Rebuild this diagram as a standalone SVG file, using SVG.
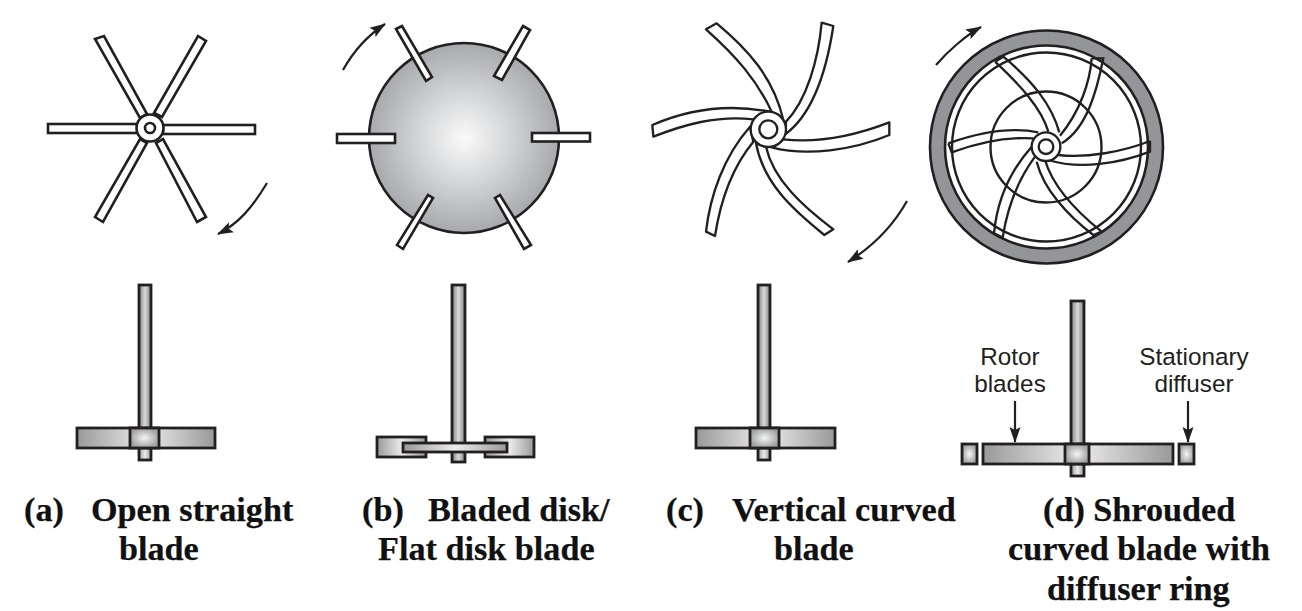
<svg xmlns="http://www.w3.org/2000/svg" width="1302" height="611" viewBox="0 0 1302 611">
<style>
.k{stroke:#231f20;fill:none}
.b{fill:#fff;stroke:#231f20;stroke-width:2.6}
.cv{fill:#fff;stroke:#231f20;stroke-width:7;stroke-linejoin:round}
.m{fill:url(#h);stroke:#231f20;stroke-width:2.8}
.sh{fill:url(#s);stroke:#231f20;stroke-width:2.8}
.rr{fill:url(#r);stroke:#231f20;stroke-width:2.8}
.ar{fill:none;stroke:#231f20;stroke-width:2.2}
.cap{font-family:"Liberation Serif","Times New Roman",serif;font-weight:bold;font-size:34.2px;fill:#111;stroke:#111;stroke-width:.25}
.lab{font-family:"Liberation Sans",Arial,sans-serif;font-size:24.3px;fill:#231f20;text-anchor:middle}
</style>
<defs>
<radialGradient id="disk" gradientUnits="userSpaceOnUse" cx="464" cy="138" r="95"><stop offset="0" stop-color="#fafafa"/><stop offset=".5" stop-color="#d2d3d5"/><stop offset="1" stop-color="#a7a9ac"/></radialGradient>
<linearGradient id="h"><stop offset="0" stop-color="#999"/><stop offset=".5" stop-color="#ececec"/><stop offset="1" stop-color="#999"/></linearGradient>
<linearGradient id="s"><stop offset="0" stop-color="#808285"/><stop offset=".5" stop-color="#d8d9da"/><stop offset="1" stop-color="#808285"/></linearGradient>
<radialGradient id="r"><stop offset="0" stop-color="#f5f5f5"/><stop offset="1" stop-color="#a0a1a4"/></radialGradient>
<marker id="ah" markerWidth="16" markerHeight="12" refX="15" refY="6" orient="auto" markerUnits="userSpaceOnUse"><path d="M0,0.500L16,6L0,11.500L3,6Z" fill="#231f20"/></marker>
</defs>
<g id="connectors">
<path class="ar" marker-end="url(#ah)" d="M267,183C252,208 238,224 218,234"/>
<path class="ar" marker-end="url(#ah)" d="M343,70C353,52 367,36 385,24"/>
<path class="ar" marker-end="url(#ah)" d="M907,201C893,226 875,245 848,262"/>
<path class="ar" marker-end="url(#ah)" d="M936,65C947,52 965,36 981,27"/>
<path class="ar" marker-end="url(#ah)" d="M1015,401V442"/>
<path class="ar" marker-end="url(#ah)" d="M1188,401V442"/>
</g>
<g id="impeller-a-top">
<g class="b">
<rect x="48" y="124" width="90" height="9"/>
<rect x="163" y="125" width="92" height="9"/>
<path d="M95,39L104,36L147,114L140,118Z"/>
<path d="M198,36L206,41L162,117L154,113Z"/>
<path d="M95,217L103,222L147,143L140,139Z"/>
<path d="M197,222L206,217L163,139L156,143Z"/>
</g>
<circle cx="150" cy="128" r="13.500" class="b"/><circle cx="150" cy="128" r="5" class="b"/>
</g>
<g id="impeller-b-top">
<circle cx="464" cy="138" r="95" fill="url(#disk)" stroke="#231f20" stroke-width="2.600"/>
<g class="b">
<rect x="337" y="134" width="58" height="9"/>
<rect x="532" y="133" width="58" height="8.500"/>
<path d="M396,29L402,26L432,77L426,81Z"/>
<path d="M523,26L530,30L502,80L494,76Z"/>
<path d="M397,245L403,249L433,198L428,195Z"/>
<path d="M495,198L500,195L531,245L524,249Z"/>
</g>
</g>
<g id="impeller-c-top">
<g transform="translate(640,10) scale(.33333)" class="cv">
<path d="M198,58L230,40C320,115 400,200 430,330L395,305C350,210 290,140 198,58Z"/>
<path d="M545,38L580,48C560,180 520,310 437,372L438,335C500,270 535,150 545,38Z"/>
<path d="M748,337V375C640,420 500,440 395,412L430,388C540,400 650,375 748,337Z"/>
<path d="M580,658L553,675C460,600 370,520 348,400L378,410C400,510 490,590 580,658Z"/>
<path d="M198,665L225,678C240,580 270,480 340,395L330,350C250,440 210,560 198,665Z"/>
<path d="M37,345L40,380C130,345 230,315 340,328L390,305C260,280 140,300 37,345Z"/>
<circle cx="385" cy="358" r="53"/><circle cx="385" cy="358" r="27"/>
</g>
</g>
<g id="impeller-d-top">
<circle cx="1046.500" cy="147" r="109" fill="none" stroke="#939598" stroke-width="15"/>
<circle cx="1046.500" cy="147" r="116.500" class="k" stroke-width="2.600"/>
<circle cx="1046.500" cy="147" r="101.500" class="k" stroke-width="2.600"/>
<circle cx="1046.500" cy="147" r="94.500" class="k" stroke-width="2.400"/>
<circle cx="1046" cy="147" r="55.500" class="k" stroke-width="2.400"/>
<g transform="translate(920,15) scale(.33333)" style="fill:none;stroke:#231f20;stroke-width:7">
<path d="M225,140L250,125C340,200 395,270 418,352M385,350C365,280 300,210 225,140"/>
<path d="M515,130H550C530,230 500,340 425,385M420,362C480,290 510,200 515,130"/>
<path d="M690,378V410C600,445 480,465 385,435M415,420C500,430 610,410 690,378"/>
<path d="M545,650L520,660C440,600 370,520 350,440M375,435C400,520 470,590 545,650"/>
<path d="M222,655L248,668C260,590 290,500 345,425M335,395C260,480 230,570 222,655"/>
<path d="M85,385L95,412C170,385 260,365 340,370M355,352C270,335 170,355 85,385"/>
<circle cx="378" cy="395" r="43" fill="#fff"/><circle cx="378" cy="395" r="22" fill="#fff"/>
</g>
</g>
<g id="impeller-a-side">
<rect class="sh" x="139" y="285" width="12" height="144"/>
<rect class="m" x="139" y="447" width="12" height="13"/>
<rect class="m" x="77" y="428" width="138" height="20"/>
<rect class="rr" x="130" y="428" width="29" height="20"/>
</g>
<g id="impeller-b-side">
<rect class="sh" x="452" y="285" width="13" height="177"/>
<rect class="m" x="377" y="437" width="49" height="20"/>
<rect class="m" x="485" y="437" width="49" height="20"/>
<rect class="m" x="403" y="443" width="104" height="9"/>
</g>
<g id="impeller-c-side">
<rect class="sh" x="758" y="285" width="12" height="144"/>
<rect class="m" x="758" y="447" width="12" height="13"/>
<rect class="m" x="696" y="428" width="139" height="20"/>
<rect class="rr" x="750" y="428" width="29" height="20"/>
</g>
<g id="impeller-d-side">
<rect class="sh" x="1071" y="301" width="13" height="144"/>
<rect class="m" x="1071" y="463" width="13" height="13"/>
<rect class="m" x="983" y="444" width="190" height="20"/>
<rect class="rr" x="1065" y="444" width="24" height="20"/>
<rect class="rr" x="962" y="444" width="15" height="20"/>
<rect class="rr" x="1179" y="444" width="15" height="20"/>
<text class="lab" x="1010" y="365">Rotor</text>
<text class="lab" x="1010" y="392">blades</text>
<text class="lab" x="1194" y="365">Stationary</text>
<text class="lab" x="1194" y="392">diffuser</text>
</g>
<g id="captions">
<text class="cap" x="24" y="521">(a)</text><text class="cap" x="91" y="521">Open straight</text>
<text class="cap" x="119" y="560">blade</text>
<text class="cap" x="362" y="521">(b)</text><text class="cap" x="428" y="521">Bladed disk/</text>
<text class="cap" x="378" y="560">Flat disk blade</text>
<text class="cap" x="666" y="521">(c)</text><text class="cap" x="732" y="521">Vertical curved</text>
<text class="cap" x="774" y="560">blade</text>
<text class="cap" x="1043" y="521">(d) Shrouded</text>
<text class="cap" x="1008" y="560">curved blade with</text>
<text class="cap" x="1047" y="600">diffuser ring</text>
</g>
</svg>
